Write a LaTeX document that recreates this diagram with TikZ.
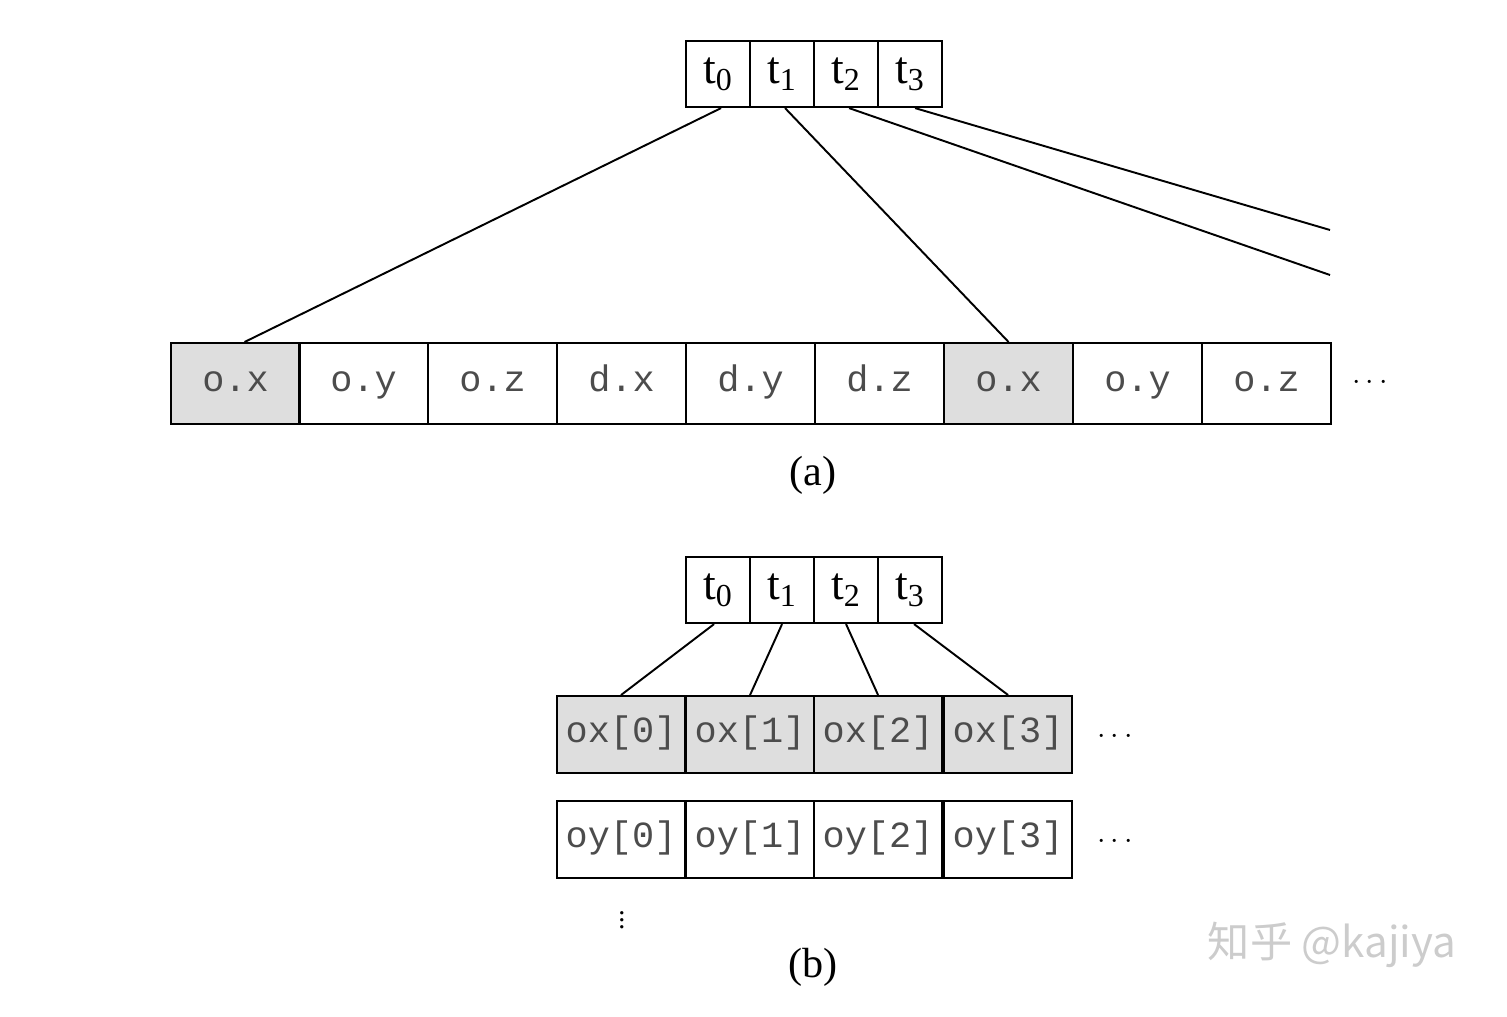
\documentclass[tikz,border=0pt]{standalone}
\usepackage{fontspec}
\setmainfont{Liberation Serif}
\setmonofont{Liberation Mono}
\newfontfamily\cjk{Noto Sans CJK SC}
\begin{document}
\begin{tikzpicture}[x=0.02cm,y=-0.02cm,
  cell/.style={draw,line width=1.2pt,minimum width=#1*0.02cm,inner sep=0pt,anchor=north west},
  tcell/.style={cell=64,minimum height=1.32cm,font=\fontsize{26}{28}\selectfont},
  dcell/.style={cell=129,minimum height=1.62cm,font=\fontsize{21}{24}\ttfamily\selectfont,text=black!70,text height=0.42cm,text depth=0.12cm},
  bcell/.style={cell=128,minimum height=1.54cm,font=\fontsize{21}{24}\ttfamily\selectfont,text=black!70,text height=0.42cm,text depth=0.12cm},
  hl/.style={fill=black!13},
  conn/.style={line width=1.1pt},
  dts/.style={font=\fontsize{16}{18}\selectfont},
  lab/.style={font=\fontsize{24}{26}\selectfont}]
\useasboundingbox (0,0) rectangle (1507,1017);
% (a)
\foreach \i/\x in {0/685,1/749,2/813,3/877}{
  \node[tcell] (ta\i) at (\x,40) {t\textsubscript{\i}};}
\foreach \i/\x/\t/\s in {1/170/o.x/hl,2/298/o.y/,3/427/o.z/,4/556/d.x/,5/685/d.y/,6/814/d.z/,7/943/o.x/hl,8/1072/o.y/,9/1201/o.z/}{
  \node[dcell,\s] (a\i) at (\x,342) {\t};}
\node[dts] (dotsa) at (1370,383) {$\cdots$};
\node[lab] (capa) at (813,475) {(a)};
\coordinate (e2) at (1330,275);
\coordinate (e3) at (1330,230);
\draw[conn] ([xshift=0.06cm]ta0.south) -- ([xshift=0.18cm]a1.north);
\draw[conn] ([xshift=0.06cm]ta1.south) -- (a7.north);
\draw[conn] ([xshift=0.06cm]ta2.south) -- (e2);
\draw[conn] ([xshift=0.1cm]ta3.south) -- (e3);
% (b)
\foreach \i/\x in {0/685,1/749,2/813,3/877}{
  \node[tcell] (tb\i) at (\x,556) {t\textsubscript{\i}};}
\foreach \i/\x in {0/556,1/685,2/813,3/943}{
  \node[bcell,hl] (ox\i) at (\x,695) {ox[\i]};
  \node[bcell] (oy\i) at (\x,800) {oy[\i]};}
\draw[conn] ([xshift=-0.08cm]tb0.south) -- (ox0.north);
\draw[conn] (tb1.south) -- (ox1.north);
\draw[conn] (tb2.south) -- (ox2.north);
\draw[conn] ([xshift=0.08cm]tb3.south) -- (ox3.north);
\node[dts] (dotsb1) at (1115,737) {$\cdots$};
\node[dts] (dotsb2) at (1115,842) {$\cdots$};
\node[dts,inner sep=0pt] (vdots) at (622,915) {$\vdots$};
\node[lab] (capb) at (813,967) {(b)};
\node[font=\cjk\fontsize{24}{26}\selectfont,text=black!20] (wm) at (1332,945) {知乎 @kajiya};
\end{tikzpicture}
\end{document}
